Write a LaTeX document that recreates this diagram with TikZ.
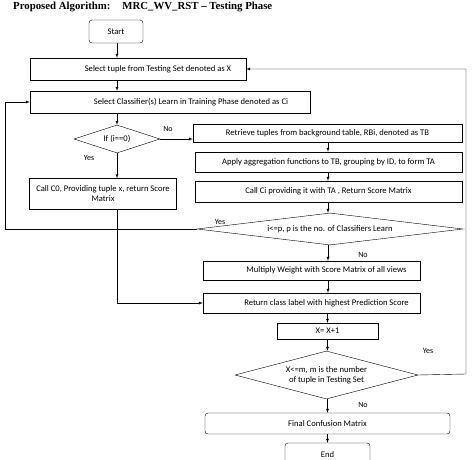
\documentclass[tikz,border=0pt]{standalone}
\usepackage{fontspec}
\setmainfont{Carlito}
\newfontfamily\titlefont{Liberation Serif}
\usetikzlibrary{shapes.geometric}

\begin{document}
\begin{tikzpicture}[x=1pt, y=-1pt, font=\fontsize{8.6}{10}\selectfont,
	block/.style={rectangle, draw, text centered, inner sep=1pt},
	roundblock/.style={rectangle, rounded corners=3pt, draw, text centered, inner sep=1pt},
	decision/.style={diamond, draw, text centered, inner sep=0pt, aspect=4},
	lbl/.style={inner sep=0pt, font=\fontsize{8}{9}\selectfont}]
			
			\useasboundingbox (0,0) rectangle (474,460);
			
			%Title
			\node (title) at (13,7) [anchor=west, inner sep=0pt, font=\titlefont\bfseries\fontsize{10.8}{12}\selectfont] {Proposed Algorithm:\hspace{1.1em}MRC\_WV\_RST – Testing Phase};
			
			%Blocks
			\node (start) at (116,31.5) [roundblock, minimum width=54, minimum height=23] {Start};
			\node (tuple) at (138,69) [block, minimum width=216, minimum height=22] {\hspace*{40pt}Select tuple from Testing Set denoted as X};
			\node (classifier) at (170,102) [block, minimum width=280, minimum height=22] {\hspace*{42pt}Select Classifier(s) Learn in Training Phase denoted as Ci};
			\node (ifzero) at (117,139) [decision, minimum width=86, minimum height=28] {If (i==0)};
			\node (retrieve) at (327.5,133) [block, minimum width=269, minimum height=18] {Retrieve tuples from background table, RBi, denoted as TB};
			\node (apply) at (328.5,162) [block, minimum width=267, minimum height=20] {Apply aggregation functions to TB, grouping by ID, to form TA};
			\node (callci) at (328.5,191.5) [block, minimum width=267, minimum height=21] {Call Ci providing it with TA , Return Score Matrix};
			\node (callzero) at (103,194) [block, minimum width=147, minimum height=31, align=center] {Call C0, Providing tuple x, return Score\\Matrix};
			\node (ilep) at (330,229) [decision, minimum width=266, minimum height=32, aspect=8] {i<=p, p is the no. of Classifiers Learn};
			\node (multiply) at (311.5,270.5) [block, minimum width=217, minimum height=19] {\hspace*{30pt}Multiply Weight with Score Matrix of all views};
			\node (returnlabel) at (311.5,303) [block, minimum width=217, minimum height=20] {\hspace*{30pt}Return class label with highest Prediction Score};
			\node (increment) at (327.5,331) [block, minimum width=101, minimum height=16] {X= X+1};
			\node (xlem) at (326.5,375) [decision, minimum width=183, minimum height=48, align=center] {X<=m, m is the number\\of tuple in Testing Set};
			\node (confusion) at (327.5,423.5) [roundblock, minimum width=245, minimum height=21] {Final Confusion Matrix};
			\node (finish) at (327.5,455) [roundblock, minimum width=85, minimum height=24] {End};
			
			%Labels
			\node (nozero) at (168,129) [lbl] {No};
			\node (yeszero) at (89,158) [lbl] {Yes};
			\node (yesilep) at (220,222) [lbl] {Yes};
			\node (noilep) at (363,255) [lbl] {No};
			\node (yesxlem) at (428,351) [lbl] {Yes};
			\node (noxlem) at (363,405) [lbl] {No};
			
			%Rails
			\coordinate (leftrail) at (5,229);
			\coordinate (rightrail) at (466,374);
			\coordinate (column) at (328,0);
			
			%Links
			\draw [-latex] (start.south -| ifzero.north) -- (tuple.north -| ifzero.north);
			\draw [-latex] (tuple.south -| ifzero.north) -- (classifier.north -| ifzero.north);
			\draw [-latex] (classifier.south -| ifzero.north) -- (ifzero.north);
			\draw [-latex] (ifzero.south) -- (callzero.north -| ifzero.south);
			\draw [-latex] (ifzero.east) -- (ifzero.east -| retrieve.west);
			\draw [-latex] (retrieve.south -| column) -- (apply.north -| column);
			\draw [-latex] (apply.south -| column) -- (callci.north -| column);
			\draw [-latex] (callci.south -| column) -- (ilep.north -| column);
			\draw [-latex] (ilep.south -| column) -- (multiply.north -| column);
			\draw [-latex] (multiply.south -| column) -- (returnlabel.north -| column);
			\draw [-latex] (returnlabel.south -| increment.north) -- (increment.north);
			\draw [-latex] (increment.south) -- (xlem.north -| increment.south);
			\draw [-latex] (xlem.south -| increment.south) -- (confusion.north -| increment.south);
			\draw [-latex] (confusion.south -| increment.south) -- (finish.north -| increment.south);
			\draw [-latex] (ilep.west) -- (leftrail) |- (classifier.west);
			\draw [-latex] (callzero.south -| ifzero.south) |- (returnlabel.west);
			\draw [-latex] (xlem.east) -- (rightrail) |- (tuple.east);
			
			\end{tikzpicture}
\end{document}
